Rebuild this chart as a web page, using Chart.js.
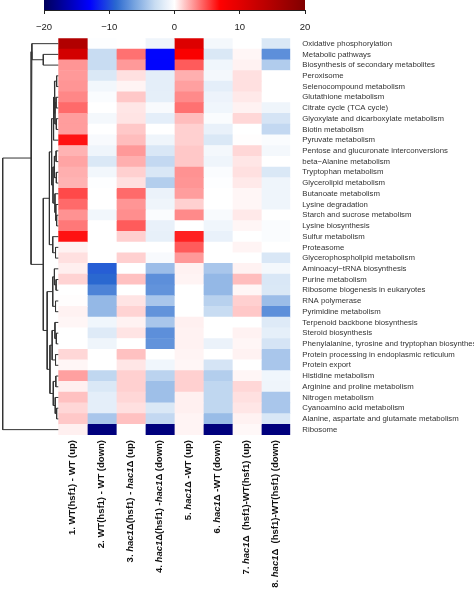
<!DOCTYPE html>
<html>
<head>
<meta charset="utf-8">
<title>Pathway heatmap</title>
<script src="https://cdn.jsdelivr.net/npm/chart.js@4.4.1/dist/chart.umd.min.js"></script>
<style>
  html, body { margin: 0; padding: 0; background: #fff; }
  #wrap { position: relative; width: 474px; height: 594px; overflow: hidden; background: #fff; }
  canvas { position: absolute; left: 0; top: 0; }
</style>
</head>
<body>
<div id="wrap">
  <canvas id="heat" width="474" height="594"></canvas>
  <canvas id="tree" width="60" height="594"></canvas>
  <canvas id="bar" width="474" height="36"></canvas>
</div>
<script>
// rows of the heatmap (top to bottom)
const rowLabels = [
  'Oxidative phosphorylation', 'Metabolic pathways', 'Biosynthesis of secondary metabolites',
  'Peroxisome', 'Selenocompound metabolism', 'Glutathione metabolism', 'Citrate cycle (TCA cycle)',
  'Glyoxylate and dicarboxylate metabolism', 'Biotin metabolism', 'Pyruvate metabolism',
  'Pentose and glucuronate interconversions', 'beta\u2212Alanine metabolism', 'Tryptophan metabolism',
  'Glycerolipid metabolism', 'Butanoate metabolism', 'Lysine degradation',
  'Starch and sucrose metabolism', 'Lysine biosynthesis', 'Sulfur metabolism', 'Proteasome',
  'Glycerophospholipid metabolism', 'Aminoacyl\u2212tRNA biosynthesis', 'Purine metabolism',
  'Ribosome biogenesis in eukaryotes', 'RNA polymerase', 'Pyrimidine metabolism',
  'Terpenoid backbone biosynthesis', 'Steroid biosynthesis',
  'Phenylalanine, tyrosine and tryptophan biosynthesis', 'Protein processing in endoplasmic reticulum',
  'Protein export', 'Histidine metabolism', 'Arginine and proline metabolism', 'Nitrogen metabolism',
  'Cyanoamino acid metabolism', 'Alanine, aspartate and glutamate metabolism', 'Ribosome'
];

// comparisons (columns)
const colLabels = [
  '1. WT(hsf1) - WT (up)',
  '2. WT(hsf1) - WT (down)',
  '3. hac1\u0394(hsf1) - hac1\u0394 (up)',
  '4. hac1\u0394(hsf1) -hac1\u0394 (down)',
  '5. hac1\u0394 -WT (up)',
  '6. hac1\u0394 -WT (down)',
  '7. hac1\u0394  (hsf1)-WT(hsf1) (up)',
  '8. hac1\u0394  (hsf1)-WT(hsf1) (down)'
];

// values per column, one per row
const wtUp      = [15, 11.5, 2.9, 2.8, 2.9, 3.3, 4.1, 2.7, 2.7, 6.5, 2.1, 2.5, 2.2, 2.1, 5, 4.1, 3, 3.7, 6.5, 0.35, 0.85, 0.45, 1.2, 0, 0.05, 0.35, 0.25, 0, 0, 1.1, 0.25, 2.6, 0.4, 1.7, 1.1, 1.5, 0.4];
const wtDown    = [-0.1, -3, -3, -2, -0.7, -0.3, 0, -0.6, 0, -0.4, -0.9, -2, -0.7, -0.1, 0, 0, -0.7, 0, 0, 0, 0, -9.4, -9, -7.7, -5, -5, -0.8, -1.8, -0.9, 0, 0, -3.3, -2, -1.5, -1.5, -4.2, -18.5];
const hacUp     = [0, 3.9, 2.8, 0.85, 0.3, 1.5, 0.7, 0.75, 1.5, 1.8, 2.8, 2.2, 1.3, 0.85, 4.1, 2.9, 3.1, 4.5, 1.3, 0, 1.3, 0, 1.7, 0, 0.75, 1.2, 0.35, 0.75, 0, 1.7, 0.7, 1.3, 1.3, 1.1, 0.85, 1.7, 0];
const hacDown   = [-0.9, -12.8, -12.8, -1.5, -1.5, -1.4, -0.4, -1.5, 0, -0.9, -2.1, -3.2, -2.1, -3.8, -1.1, -0.9, -0.3, -1.2, -1.3, 0, -0.4, -4.7, -7.1, -6.9, -4.2, -6.9, -4.2, -7.1, -6.9, 0, -0.8, -3.5, -4.6, -4.6, -2, -3.2, -18.5];
const hacWtUp   = [10.5, 7.5, 4.5, 2.2, 2.6, 3.2, 3.9, 1.8, 1.3, 1.3, 1.5, 1.5, 3, 2.9, 2.7, 1.3, 3.2, 0, 6.1, 4.5, 2.8, 0.35, 0.3, 0, 0, 0, 0.4, 0.35, 0.35, 0.3, 0.25, 1.3, 1.3, 0.4, 0.4, 0.3, 0.3];
const hacWtDown = [-0.6, -2, -0.8, -0.6, -1.5, -1, -0.8, -0.3, -1.2, -2, -0.6, -0.9, -0.3, -0.1, 0, 0, -0.4, -0.8, -1.2, 0, 0, -4.2, -5, -5, -3.6, -3, 0, 0, -1.1, 0, -2.3, -3.8, -3.3, -3.3, -3.3, -4.8, -18.5];
const hsfUp     = [0, 0.25, 0.35, 0.85, 0.85, 0.6, 0.35, 1.1, 0, 0.05, 1.1, 0.7, 0.85, 0.6, 0.25, 0.25, 0.6, 0.25, 0, 0.3, 0, 0.35, 1.8, 0.25, 1.3, 1.5, 0, 0.35, 0.25, 0.35, 0, 0.25, 1.1, 0.85, 0.7, 0.35, 0.2];
const hsfDown   = [-2, -7.1, -3.9, 0, 0, 0, -0.9, -2.3, -3.2, -0.3, -0.6, 0, -2, -0.9, -0.9, -0.9, 0, -0.3, -0.3, 0, -2.1, -0.6, -2.1, -2, -4.7, -7.1, -1.8, -1.4, -2.3, -4.2, -4.2, -0.8, -0.9, -4.2, -4.2, -2.1, -18.5];
const columns = [wtUp, wtDown, hacUp, hacDown, hacWtUp, hacWtDown, hsfUp, hsfDown];

// row clustering, hclust style: [left, right, height]; negative = row number, positive = earlier merge
const merges = [
  [-4, -5, 0.03], [-6, -7, 0.04], [-8, -9, 0.035], [2, 3, 0.06], [1, 4, 0.07], [5, -10, 0.085],
  [-11, -12, 0.04], [-13, -14, 0.035], [7, 8, 0.07], [-17, -18, 0.03], [-16, 10, 0.045],
  [-15, 11, 0.06], [9, 12, 0.095], [6, 13, 0.12], [-20, -21, 0.05], [-19, 15, 0.1], [14, 16, 0.16],
  [-23, -24, 0.04], [-22, 18, 0.07], [-25, -26, 0.05], [19, 20, 0.1], [-28, -29, 0.035],
  [-27, 22, 0.06], [-30, -31, 0.05], [23, 24, 0.11], [-32, -33, 0.045], [-35, -36, 0.03],
  [-34, 27, 0.055], [26, 28, 0.09], [25, 29, 0.15], [21, 30, 0.2], [17, 31, 0.27],
  [-2, -3, 0.27], [-1, 33, 0.475], [34, 32, 0.49], [35, -37, 1.0]
];

// colour key
const keyTicks = [-20, -10, 0, 10, 20];
const keyStops = [-20, -13, -9, -6, -3, 0, 7, 20];
const keyColors = ['#00005a', '#0000ff', '#2a68d0', '#7aa6e0', '#c8dcf2', '#ffffff', '#ff0000', '#800000'];

const FONT = "'Liberation Sans', Arial, Helvetica, sans-serif";

function hexRgb(h) {
  return [parseInt(h.slice(1, 3), 16), parseInt(h.slice(3, 5), 16), parseInt(h.slice(5, 7), 16)];
}

function colorFor(v) {
  v = Math.max(-20, Math.min(20, v));
  let i = 0;
  while (i < keyStops.length - 2 && v > keyStops[i + 1]) i++;
  const t = (v - keyStops[i]) / (keyStops[i + 1] - keyStops[i]);
  const a = hexRgb(keyColors[i]), b = hexRgb(keyColors[i + 1]);
  const c = a.map((x, k) => Math.round(x + (b[k] - x) * t));
  return 'rgb(' + c.join(',') + ')';
}

// layout of the heat map area
const LEFT = 58.3, RIGHT = 290.3, TOP = 38.3, BOTTOM = 435;

// column labels drawn rotated, with the gene name in italics
const colLabelPlugin = {
  id: 'colLabels',
  afterDraw(chart) {
    const ctx = chart.ctx;
    const xs = chart.scales.x;
    const bold = 'bold 9.5px ' + FONT;
    const boldIt = 'italic bold 9.5px ' + FONT;
    ctx.save();
    ctx.fillStyle = '#111';
    ctx.textBaseline = 'middle';
    ctx.textAlign = 'left';
    colLabels.forEach((lab, i) => {
      const parts = lab.split(/(hac1)/).filter(s => s.length);
      let total = 0;
      parts.forEach(p => { ctx.font = p === 'hac1' ? boldIt : bold; total += ctx.measureText(p).width; });
      ctx.save();
      ctx.translate(xs.getPixelForValue(i + 0.5), chart.chartArea.bottom + 5);
      ctx.rotate(-Math.PI / 2);
      let x = -total;
      parts.forEach(p => {
        ctx.font = p === 'hac1' ? boldIt : bold;
        ctx.fillText(p, x, 0);
        x += ctx.measureText(p).width;
      });
      ctx.restore();
    });
    ctx.restore();
  }
};

// heat map
new Chart(document.getElementById('heat'), {
  type: 'bar',
  data: {
    labels: rowLabels,
    datasets: columns.map((vals, i) => ({
      data: rowLabels.map(() => [i, i + 1]),
      backgroundColor: vals.map(colorFor),
      borderWidth: 0,
      grouped: false,
      barPercentage: 1,
      categoryPercentage: 1
    }))
  },
  options: {
    indexAxis: 'y',
    responsive: false,
    animation: false,
    layout: { padding: { left: LEFT, top: TOP, right: 0, bottom: 594 - BOTTOM } },
    scales: {
      x: { type: 'linear', min: 0, max: 8, display: false },
      y: {
        position: 'right',
        grid: { display: false },
        border: { display: false },
        ticks: { autoSkip: false, padding: 4, color: '#333', font: { family: FONT, size: 7.8 } },
        afterFit(s) { s.width = 474 - RIGHT; }
      }
    },
    plugins: { legend: { display: false }, tooltip: { enabled: false } }
  },
  plugins: [colLabelPlugin]
});

// dendrogram
const nodePos = [];
const posOf = id => id < 0 ? -id : nodePos[id - 1];
const hOf = id => id < 0 ? 0 : merges[id - 1][2];
merges.forEach(([a, b]) => { nodePos.push((posOf(a) + posOf(b)) / 2); });

new Chart(document.getElementById('tree'), {
  type: 'scatter',
  data: {
    datasets: merges.map(([a, b, h]) => ({
      data: [
        { x: hOf(a), y: posOf(a) }, { x: h, y: posOf(a) },
        { x: h, y: posOf(b) }, { x: hOf(b), y: posOf(b) }
      ],
      showLine: true,
      borderColor: '#333',
      borderWidth: 1,
      pointRadius: 0,
      tension: 0,
      clip: false
    }))
  },
  options: {
    responsive: false,
    animation: false,
    layout: { padding: { left: 2.7, right: 60 - LEFT, top: TOP, bottom: 594 - BOTTOM } },
    scales: {
      x: { type: 'linear', min: 0, max: 1, reverse: true, display: false },
      y: { type: 'linear', min: 0.5, max: rowLabels.length + 0.5, reverse: true, display: false }
    },
    plugins: { legend: { display: false }, tooltip: { enabled: false } }
  }
});

// colour key on top
new Chart(document.getElementById('bar'), {
  type: 'bar',
  data: {
    labels: [''],
    datasets: [{
      data: [[-20, 20]],
      borderWidth: 0,
      barPercentage: 1,
      categoryPercentage: 1,
      backgroundColor(c) {
        const chart = c.chart;
        if (!chart.chartArea) return '#fff';
        const xs = chart.scales.x;
        const g = chart.ctx.createLinearGradient(xs.getPixelForValue(-20), 0, xs.getPixelForValue(20), 0);
        for (let v = -20; v <= 20; v += 0.5) g.addColorStop((v + 20) / 40, colorFor(v));
        return g;
      }
    }]
  },
  options: {
    indexAxis: 'y',
    responsive: false,
    animation: false,
    layout: { padding: { left: 44, right: 474 - 305, top: 0, bottom: 0 } },
    scales: {
      x: {
        type: 'linear', min: -20, max: 20,
        afterBuildTicks(s) { s.ticks = keyTicks.map(v => ({ value: v })); },
        ticks: {
          maxRotation: 0, padding: 8, color: '#222',
          font: { family: FONT, size: 9.5 },
          callback: v => v < 0 ? '\u2212' + Math.abs(v) : String(v)
        },
        grid: { drawOnChartArea: false, tickLength: 4, color: '#222' },
        border: { display: true, color: '#222', width: 1 },
        afterFit(s) { s.height = 26; }
      },
      y: { display: false }
    },
    plugins: { legend: { display: false }, tooltip: { enabled: false } }
  }
});
</script>
</body>
</html>
